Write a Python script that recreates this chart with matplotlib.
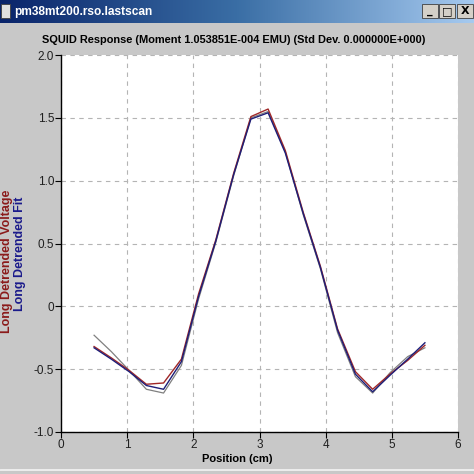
import matplotlib
matplotlib.use("Agg")
import matplotlib.pyplot as plt
import numpy as np
from matplotlib.patches import Rectangle
from matplotlib.colors import LinearSegmentedColormap

plt.rcParams['font.family'] = ['Liberation Sans', 'DejaVu Sans']

# scan positions (cm)
position = [0.50, 0.76, 1.03, 1.29, 1.55, 1.82, 2.08, 2.34, 2.61, 2.87,
            3.13, 3.39, 3.66, 3.92, 4.18, 4.45, 4.71, 4.97, 5.24, 5.50]

# long detrended voltage (red)
voltage = [-0.32, -0.41, -0.51, -0.62, -0.61, -0.42, 0.10, 0.53, 1.06, 1.51,
           1.57, 1.24, 0.75, 0.32, -0.18, -0.52, -0.66, -0.54, -0.43, -0.31]

# long detrended fit (blue)
fit = [-0.33, -0.42, -0.52, -0.63, -0.66, -0.44, 0.08, 0.52, 1.05, 1.49,
       1.54, 1.22, 0.74, 0.31, -0.19, -0.54, -0.68, -0.55, -0.42, -0.29]

# second trace (grey)
trace2 = [-0.23, -0.36, -0.51, -0.66, -0.69, -0.47, 0.06, 0.51, 1.04, 1.50,
          1.55, 1.23, 0.73, 0.30, -0.21, -0.56, -0.69, -0.53, -0.40, -0.33]

x_ticks = [0, 1, 2, 3, 4, 5, 6]
y_ticks = [-1.0, -0.5, 0.0, 0.5, 1.0, 1.5, 2.0]
y_tick_labels = ['-1.0', '-0.5', '0', '0.5', '1.0', '1.5', '2.0']

W = H = 474
fig = plt.figure(figsize=(4.74, 4.74), dpi=100)
fig.patch.set_facecolor('#c8c8c8')


def px(x0, y0, w, h):
    # pixel box (top-left origin) -> figure fraction
    return [x0 / W, 1 - (y0 + h) / H, w / W, h / H]


# ---- window title bar ----
bar = fig.add_axes(px(0, 0, 474, 23))
grad = np.linspace(0, 1, 256).reshape(1, -1)
cm = LinearSegmentedColormap.from_list('tb', ['#0a246a', '#3a6ea5', '#a6caf0'])
bar.imshow(grad, aspect='auto', cmap=cm, extent=[0, 474, 23, 0])
bar.set_xlim(0, 474)
bar.set_ylim(23, 0)
bar.axis('off')
bar.text(14, 12, 'pm38mt200.rso.lastscan', color='white', fontweight='bold',
         fontsize=8.6, va='center', ha='left')
# window icon
bar.add_patch(Rectangle((1, 4), 9, 14, facecolor='#e0e0e0', edgecolor='#404040', lw=0.6))
# buttons
for bx, sym in [(422, '_'), (439, '□'), (457, 'X')]:
    bar.add_patch(Rectangle((bx, 4), 16, 14, facecolor='#d4d0c8', edgecolor='#404040', lw=0.6))
    bar.text(bx + 8, 11.5, sym, ha='center', va='center', fontsize=8,
             fontweight='bold', color='black', family=['DejaVu Sans'])

# ---- plot ----
ax = fig.add_axes(px(61, 55, 397, 377))
ax.set_facecolor('white')
ax.plot(position, trace2, color='#808080', lw=0.9)
ax.plot(position, voltage, color='#a02828', lw=1.0)
ax.plot(position, fit, color='#1e1e78', lw=1.0)

ax.set_xlim(0, 6)
ax.set_ylim(-1.0, 2.0)
ax.set_xticks(x_ticks)
ax.set_yticks(y_ticks)
ax.set_yticklabels(y_tick_labels)
ax.grid(True, color='#b4b4b4', linestyle=(0, (4, 4)), lw=0.8)
for s in ['top', 'right']:
    ax.spines[s].set_visible(False)
for s in ['left', 'bottom']:
    ax.spines[s].set_color('black')
    ax.spines[s].set_linewidth(1.0)
ax.tick_params(direction='out', length=4, width=0.8, labelsize=8.5,
               colors='black', labelcolor='#202020', pad=1)

fig.text(234 / W, 1 - 40 / H,
         'SQUID Response (Moment 1.053851E-004 EMU) (Std Dev. 0.000000E+000)',
         ha='center', va='center', fontsize=7.9, fontweight='bold', color='black')
fig.text(237 / W, 1 - 459 / H, 'Position (cm)', ha='center', va='center',
         fontsize=8, fontweight='bold', color='black')
fig.text(7 / W, 1 - 261 / H, 'Long Detrended Voltage', rotation=90, ha='center',
         va='center', fontsize=9, fontweight='bold', color='#8b1a1a')
fig.text(20 / W, 1 - 254 / H, 'Long Detrended Fit', rotation=90, ha='center',
         va='center', fontsize=9, fontweight='bold', color='#1a1a8b')

# bottom window edge highlight
edge = fig.add_axes(px(0, 469, 474, 2))
edge.axis('off')
edge.add_patch(Rectangle((0, 0), 1, 1, transform=edge.transAxes, color='#ececec'))

fig.savefig('out.png', dpi=100, facecolor=fig.get_facecolor())
